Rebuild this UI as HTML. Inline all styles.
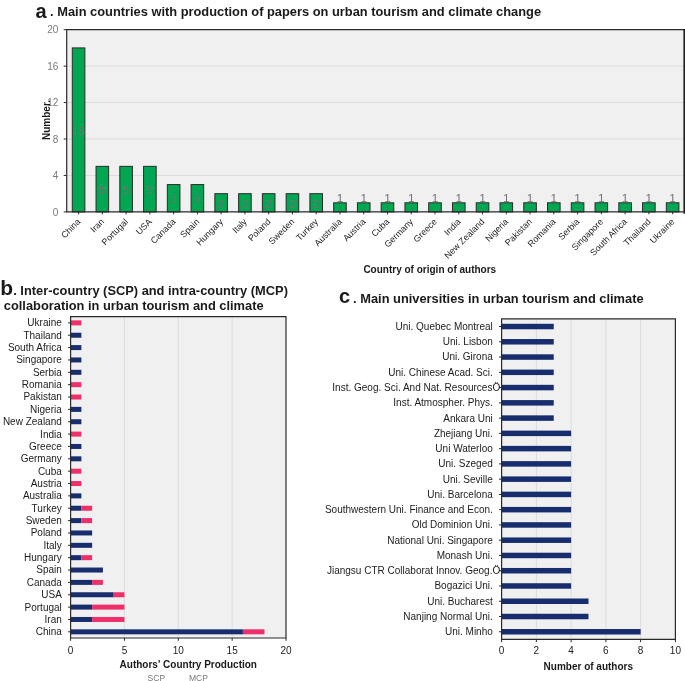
<!DOCTYPE html>
<html lang="en"><head><meta charset="utf-8"><title>Urban tourism and climate change</title>
<style>
html,body{margin:0;padding:0;background:#fff;}
svg{display:block;font-family:"Liberation Sans", Arial, sans-serif;}
.t{font-weight:bold;font-size:12.85px;fill:#1a1a1a;}
.L{font-weight:bold;font-size:20px;fill:#1a1a1a;}
.ax{font-weight:bold;font-size:10px;fill:#1a1a1a;}
.lab{font-size:10px;fill:#1c1c1c;}
.xl{font-size:8.9px;fill:#1c1c1c;}
.ytk{font-size:10px;fill:#7a7a7a;}
.val{font-size:11.8px;fill:#737373;}
.leg{font-size:8.5px;fill:#777;}
</style></head><body>
<svg width="685" height="681" viewBox="0 0 685 681">
<rect width="685" height="681" fill="#fff"/>
<text class="L" x="35.5" y="17.6">a</text>
<text class="t" x="50.1" y="16.4">. Main countries with production of papers on urban tourism and climate change</text>
<rect x="66.7" y="29.7" width="617.8" height="182.20000000000002" fill="#f0f0f0"/>
<line x1="66.7" x2="684.5" y1="175.46" y2="175.46" stroke="#dcdcdc" stroke-width="1"/>
<line x1="66.7" x2="684.5" y1="139.02" y2="139.02" stroke="#dcdcdc" stroke-width="1"/>
<line x1="66.7" x2="684.5" y1="102.58" y2="102.58" stroke="#dcdcdc" stroke-width="1"/>
<line x1="66.7" x2="684.5" y1="66.14" y2="66.14" stroke="#dcdcdc" stroke-width="1"/>
<line x1="63.7" x2="66.7" y1="211.90" y2="211.90" stroke="#2a2a2a" stroke-width="1"/>
<text class="ytk" x="58.400000000000006" y="215.50" text-anchor="end">0</text>
<line x1="63.7" x2="66.7" y1="175.46" y2="175.46" stroke="#2a2a2a" stroke-width="1"/>
<text class="ytk" x="58.400000000000006" y="179.06" text-anchor="end">4</text>
<line x1="63.7" x2="66.7" y1="139.02" y2="139.02" stroke="#2a2a2a" stroke-width="1"/>
<text class="ytk" x="58.400000000000006" y="142.62" text-anchor="end">8</text>
<line x1="63.7" x2="66.7" y1="102.58" y2="102.58" stroke="#2a2a2a" stroke-width="1"/>
<text class="ytk" x="58.400000000000006" y="106.18" text-anchor="end">12</text>
<line x1="63.7" x2="66.7" y1="66.14" y2="66.14" stroke="#2a2a2a" stroke-width="1"/>
<text class="ytk" x="58.400000000000006" y="69.74" text-anchor="end">16</text>
<line x1="63.7" x2="66.7" y1="29.70" y2="29.70" stroke="#2a2a2a" stroke-width="1"/>
<text class="ytk" x="58.400000000000006" y="33.30" text-anchor="end">20</text>
<rect x="72.28" y="47.92" width="12.6" height="163.98" fill="#00a651" stroke="#2b2b2b" stroke-width="1"/>
<text class="val" x="78.58" y="134.81" text-anchor="middle">18</text>
<line x1="78.58" x2="78.58" y1="211.9" y2="214.3" stroke="#2a2a2a" stroke-width="1"/>
<text class="xl" text-anchor="end" transform="translate(81.08,222.30) rotate(-45)">China</text>
<rect x="96.04" y="166.35" width="12.6" height="45.55" fill="#00a651" stroke="#2b2b2b" stroke-width="1"/>
<text class="val" x="102.34" y="194.03" text-anchor="middle">5</text>
<line x1="102.34" x2="102.34" y1="211.9" y2="214.3" stroke="#2a2a2a" stroke-width="1"/>
<text class="xl" text-anchor="end" transform="translate(104.84,222.30) rotate(-45)">Iran</text>
<rect x="119.80" y="166.35" width="12.6" height="45.55" fill="#00a651" stroke="#2b2b2b" stroke-width="1"/>
<text class="val" x="126.10" y="194.03" text-anchor="middle">5</text>
<line x1="126.10" x2="126.10" y1="211.9" y2="214.3" stroke="#2a2a2a" stroke-width="1"/>
<text class="xl" text-anchor="end" transform="translate(128.60,222.30) rotate(-45)">Portugal</text>
<rect x="143.57" y="166.35" width="12.6" height="45.55" fill="#00a651" stroke="#2b2b2b" stroke-width="1"/>
<text class="val" x="149.87" y="194.03" text-anchor="middle">5</text>
<line x1="149.87" x2="149.87" y1="211.9" y2="214.3" stroke="#2a2a2a" stroke-width="1"/>
<text class="xl" text-anchor="end" transform="translate(152.37,222.30) rotate(-45)">USA</text>
<rect x="167.33" y="184.57" width="12.6" height="27.33" fill="#00a651" stroke="#2b2b2b" stroke-width="1"/>
<text class="val" x="173.63" y="203.14" text-anchor="middle">3</text>
<line x1="173.63" x2="173.63" y1="211.9" y2="214.3" stroke="#2a2a2a" stroke-width="1"/>
<text class="xl" text-anchor="end" transform="translate(176.13,222.30) rotate(-45)">Canada</text>
<rect x="191.09" y="184.57" width="12.6" height="27.33" fill="#00a651" stroke="#2b2b2b" stroke-width="1"/>
<text class="val" x="197.39" y="203.14" text-anchor="middle">3</text>
<line x1="197.39" x2="197.39" y1="211.9" y2="214.3" stroke="#2a2a2a" stroke-width="1"/>
<text class="xl" text-anchor="end" transform="translate(199.89,222.30) rotate(-45)">Spain</text>
<rect x="214.85" y="193.68" width="12.6" height="18.22" fill="#00a651" stroke="#2b2b2b" stroke-width="1"/>
<text class="val" x="221.15" y="207.69" text-anchor="middle">2</text>
<line x1="221.15" x2="221.15" y1="211.9" y2="214.3" stroke="#2a2a2a" stroke-width="1"/>
<text class="xl" text-anchor="end" transform="translate(223.65,222.30) rotate(-45)">Hungary</text>
<rect x="238.61" y="193.68" width="12.6" height="18.22" fill="#00a651" stroke="#2b2b2b" stroke-width="1"/>
<text class="val" x="244.91" y="207.69" text-anchor="middle">2</text>
<line x1="244.91" x2="244.91" y1="211.9" y2="214.3" stroke="#2a2a2a" stroke-width="1"/>
<text class="xl" text-anchor="end" transform="translate(247.41,222.30) rotate(-45)">Italy</text>
<rect x="262.37" y="193.68" width="12.6" height="18.22" fill="#00a651" stroke="#2b2b2b" stroke-width="1"/>
<text class="val" x="268.67" y="207.69" text-anchor="middle">2</text>
<line x1="268.67" x2="268.67" y1="211.9" y2="214.3" stroke="#2a2a2a" stroke-width="1"/>
<text class="xl" text-anchor="end" transform="translate(271.17,222.30) rotate(-45)">Poland</text>
<rect x="286.13" y="193.68" width="12.6" height="18.22" fill="#00a651" stroke="#2b2b2b" stroke-width="1"/>
<text class="val" x="292.43" y="207.69" text-anchor="middle">2</text>
<line x1="292.43" x2="292.43" y1="211.9" y2="214.3" stroke="#2a2a2a" stroke-width="1"/>
<text class="xl" text-anchor="end" transform="translate(294.93,222.30) rotate(-45)">Sweden</text>
<rect x="309.90" y="193.68" width="12.6" height="18.22" fill="#00a651" stroke="#2b2b2b" stroke-width="1"/>
<text class="val" x="316.20" y="207.69" text-anchor="middle">2</text>
<line x1="316.20" x2="316.20" y1="211.9" y2="214.3" stroke="#2a2a2a" stroke-width="1"/>
<text class="xl" text-anchor="end" transform="translate(318.70,222.30) rotate(-45)">Turkey</text>
<rect x="333.66" y="202.79" width="12.6" height="9.11" fill="#00a651" stroke="#2b2b2b" stroke-width="1"/>
<text class="val" x="339.96" y="202.39" text-anchor="middle">1</text>
<line x1="339.96" x2="339.96" y1="211.9" y2="214.3" stroke="#2a2a2a" stroke-width="1"/>
<text class="xl" text-anchor="end" transform="translate(342.46,222.30) rotate(-45)">Australia</text>
<rect x="357.42" y="202.79" width="12.6" height="9.11" fill="#00a651" stroke="#2b2b2b" stroke-width="1"/>
<text class="val" x="363.72" y="202.39" text-anchor="middle">1</text>
<line x1="363.72" x2="363.72" y1="211.9" y2="214.3" stroke="#2a2a2a" stroke-width="1"/>
<text class="xl" text-anchor="end" transform="translate(366.22,222.30) rotate(-45)">Austria</text>
<rect x="381.18" y="202.79" width="12.6" height="9.11" fill="#00a651" stroke="#2b2b2b" stroke-width="1"/>
<text class="val" x="387.48" y="202.39" text-anchor="middle">1</text>
<line x1="387.48" x2="387.48" y1="211.9" y2="214.3" stroke="#2a2a2a" stroke-width="1"/>
<text class="xl" text-anchor="end" transform="translate(389.98,222.30) rotate(-45)">Cuba</text>
<rect x="404.94" y="202.79" width="12.6" height="9.11" fill="#00a651" stroke="#2b2b2b" stroke-width="1"/>
<text class="val" x="411.24" y="202.39" text-anchor="middle">1</text>
<line x1="411.24" x2="411.24" y1="211.9" y2="214.3" stroke="#2a2a2a" stroke-width="1"/>
<text class="xl" text-anchor="end" transform="translate(413.74,222.30) rotate(-45)">Germany</text>
<rect x="428.70" y="202.79" width="12.6" height="9.11" fill="#00a651" stroke="#2b2b2b" stroke-width="1"/>
<text class="val" x="435.00" y="202.39" text-anchor="middle">1</text>
<line x1="435.00" x2="435.00" y1="211.9" y2="214.3" stroke="#2a2a2a" stroke-width="1"/>
<text class="xl" text-anchor="end" transform="translate(437.50,222.30) rotate(-45)">Greece</text>
<rect x="452.47" y="202.79" width="12.6" height="9.11" fill="#00a651" stroke="#2b2b2b" stroke-width="1"/>
<text class="val" x="458.77" y="202.39" text-anchor="middle">1</text>
<line x1="458.77" x2="458.77" y1="211.9" y2="214.3" stroke="#2a2a2a" stroke-width="1"/>
<text class="xl" text-anchor="end" transform="translate(461.27,222.30) rotate(-45)">India</text>
<rect x="476.23" y="202.79" width="12.6" height="9.11" fill="#00a651" stroke="#2b2b2b" stroke-width="1"/>
<text class="val" x="482.53" y="202.39" text-anchor="middle">1</text>
<line x1="482.53" x2="482.53" y1="211.9" y2="214.3" stroke="#2a2a2a" stroke-width="1"/>
<text class="xl" text-anchor="end" transform="translate(485.03,222.30) rotate(-45)">New Zealand</text>
<rect x="499.99" y="202.79" width="12.6" height="9.11" fill="#00a651" stroke="#2b2b2b" stroke-width="1"/>
<text class="val" x="506.29" y="202.39" text-anchor="middle">1</text>
<line x1="506.29" x2="506.29" y1="211.9" y2="214.3" stroke="#2a2a2a" stroke-width="1"/>
<text class="xl" text-anchor="end" transform="translate(508.79,222.30) rotate(-45)">Nigeria</text>
<rect x="523.75" y="202.79" width="12.6" height="9.11" fill="#00a651" stroke="#2b2b2b" stroke-width="1"/>
<text class="val" x="530.05" y="202.39" text-anchor="middle">1</text>
<line x1="530.05" x2="530.05" y1="211.9" y2="214.3" stroke="#2a2a2a" stroke-width="1"/>
<text class="xl" text-anchor="end" transform="translate(532.55,222.30) rotate(-45)">Pakistan</text>
<rect x="547.51" y="202.79" width="12.6" height="9.11" fill="#00a651" stroke="#2b2b2b" stroke-width="1"/>
<text class="val" x="553.81" y="202.39" text-anchor="middle">1</text>
<line x1="553.81" x2="553.81" y1="211.9" y2="214.3" stroke="#2a2a2a" stroke-width="1"/>
<text class="xl" text-anchor="end" transform="translate(556.31,222.30) rotate(-45)">Romania</text>
<rect x="571.27" y="202.79" width="12.6" height="9.11" fill="#00a651" stroke="#2b2b2b" stroke-width="1"/>
<text class="val" x="577.57" y="202.39" text-anchor="middle">1</text>
<line x1="577.57" x2="577.57" y1="211.9" y2="214.3" stroke="#2a2a2a" stroke-width="1"/>
<text class="xl" text-anchor="end" transform="translate(580.07,222.30) rotate(-45)">Serbia</text>
<rect x="595.03" y="202.79" width="12.6" height="9.11" fill="#00a651" stroke="#2b2b2b" stroke-width="1"/>
<text class="val" x="601.33" y="202.39" text-anchor="middle">1</text>
<line x1="601.33" x2="601.33" y1="211.9" y2="214.3" stroke="#2a2a2a" stroke-width="1"/>
<text class="xl" text-anchor="end" transform="translate(603.83,222.30) rotate(-45)">Singapore</text>
<rect x="618.80" y="202.79" width="12.6" height="9.11" fill="#00a651" stroke="#2b2b2b" stroke-width="1"/>
<text class="val" x="625.10" y="202.39" text-anchor="middle">1</text>
<line x1="625.10" x2="625.10" y1="211.9" y2="214.3" stroke="#2a2a2a" stroke-width="1"/>
<text class="xl" text-anchor="end" transform="translate(627.60,222.30) rotate(-45)">South Africa</text>
<rect x="642.56" y="202.79" width="12.6" height="9.11" fill="#00a651" stroke="#2b2b2b" stroke-width="1"/>
<text class="val" x="648.86" y="202.39" text-anchor="middle">1</text>
<line x1="648.86" x2="648.86" y1="211.9" y2="214.3" stroke="#2a2a2a" stroke-width="1"/>
<text class="xl" text-anchor="end" transform="translate(651.36,222.30) rotate(-45)">Thailand</text>
<rect x="666.32" y="202.79" width="12.6" height="9.11" fill="#00a651" stroke="#2b2b2b" stroke-width="1"/>
<text class="val" x="672.62" y="202.39" text-anchor="middle">1</text>
<line x1="672.62" x2="672.62" y1="211.9" y2="214.3" stroke="#2a2a2a" stroke-width="1"/>
<text class="xl" text-anchor="end" transform="translate(675.12,222.30) rotate(-45)">Ukraine</text>
<path d="M66.7 211.9V29.7H684.5" fill="none" stroke="#2a2a2a" stroke-width="1.2"/>
<line x1="684.2" x2="684.2" y1="29.099999999999998" y2="213.70000000000002" stroke="#111" stroke-width="1.5"/>
<line x1="66.2" x2="685.0" y1="211.9" y2="211.9" stroke="#2a2a2a" stroke-width="1.4"/>
<text class="ax" text-anchor="middle" transform="translate(49.8,120) rotate(-90)">Number.</text>
<text class="ax" x="363.4" y="272.5">Country of origin of authors</text>
<text class="L" style="font-size:21px" x="0.3" y="295.4">b</text>
<text class="t" x="13.2" y="294.8">. Inter-country (SCP) and intra-country (MCP)</text>
<text class="t" x="3.8" y="310.2">collaboration in urban tourism and climate</text>
<rect x="70.6" y="316.7" width="215.4" height="321.3" fill="#f0f0f0"/>
<line x1="124.45" x2="124.45" y1="316.7" y2="638.0" stroke="#dcdcdc" stroke-width="1"/>
<line x1="178.30" x2="178.30" y1="316.7" y2="638.0" stroke="#dcdcdc" stroke-width="1"/>
<line x1="232.15" x2="232.15" y1="316.7" y2="638.0" stroke="#dcdcdc" stroke-width="1"/>
<rect x="70.60" y="320.38" width="10.77" height="5" fill="#ee2f69"/>
<line x1="68.0" x2="70.6" y1="322.88" y2="322.88" stroke="#2a2a2a" stroke-width="1"/>
<text class="lab" x="61.8" y="326.28" text-anchor="end">Ukraine</text>
<rect x="70.6" y="332.74" width="10.77" height="5" fill="#182d6e"/>
<line x1="68.0" x2="70.6" y1="335.24" y2="335.24" stroke="#2a2a2a" stroke-width="1"/>
<text class="lab" x="61.8" y="338.64" text-anchor="end">Thailand</text>
<rect x="70.6" y="345.09" width="10.77" height="5" fill="#182d6e"/>
<line x1="68.0" x2="70.6" y1="347.59" y2="347.59" stroke="#2a2a2a" stroke-width="1"/>
<text class="lab" x="61.8" y="350.99" text-anchor="end">South Africa</text>
<rect x="70.6" y="357.45" width="10.77" height="5" fill="#182d6e"/>
<line x1="68.0" x2="70.6" y1="359.95" y2="359.95" stroke="#2a2a2a" stroke-width="1"/>
<text class="lab" x="61.8" y="363.35" text-anchor="end">Singapore</text>
<rect x="70.6" y="369.81" width="10.77" height="5" fill="#182d6e"/>
<line x1="68.0" x2="70.6" y1="372.31" y2="372.31" stroke="#2a2a2a" stroke-width="1"/>
<text class="lab" x="61.8" y="375.71" text-anchor="end">Serbia</text>
<rect x="70.60" y="382.17" width="10.77" height="5" fill="#ee2f69"/>
<line x1="68.0" x2="70.6" y1="384.67" y2="384.67" stroke="#2a2a2a" stroke-width="1"/>
<text class="lab" x="61.8" y="388.07" text-anchor="end">Romania</text>
<rect x="70.60" y="394.52" width="10.77" height="5" fill="#ee2f69"/>
<line x1="68.0" x2="70.6" y1="397.02" y2="397.02" stroke="#2a2a2a" stroke-width="1"/>
<text class="lab" x="61.8" y="400.42" text-anchor="end">Pakistan</text>
<rect x="70.6" y="406.88" width="10.77" height="5" fill="#182d6e"/>
<line x1="68.0" x2="70.6" y1="409.38" y2="409.38" stroke="#2a2a2a" stroke-width="1"/>
<text class="lab" x="61.8" y="412.78" text-anchor="end">Nigeria</text>
<rect x="70.6" y="419.24" width="10.77" height="5" fill="#182d6e"/>
<line x1="68.0" x2="70.6" y1="421.74" y2="421.74" stroke="#2a2a2a" stroke-width="1"/>
<text class="lab" x="61.8" y="425.14" text-anchor="end">New Zealand</text>
<rect x="70.60" y="431.60" width="10.77" height="5" fill="#ee2f69"/>
<line x1="68.0" x2="70.6" y1="434.10" y2="434.10" stroke="#2a2a2a" stroke-width="1"/>
<text class="lab" x="61.8" y="437.50" text-anchor="end">India</text>
<rect x="70.6" y="443.96" width="10.77" height="5" fill="#182d6e"/>
<line x1="68.0" x2="70.6" y1="446.46" y2="446.46" stroke="#2a2a2a" stroke-width="1"/>
<text class="lab" x="61.8" y="449.86" text-anchor="end">Greece</text>
<rect x="70.6" y="456.31" width="10.77" height="5" fill="#182d6e"/>
<line x1="68.0" x2="70.6" y1="458.81" y2="458.81" stroke="#2a2a2a" stroke-width="1"/>
<text class="lab" x="61.8" y="462.21" text-anchor="end">Germany</text>
<rect x="70.60" y="468.67" width="10.77" height="5" fill="#ee2f69"/>
<line x1="68.0" x2="70.6" y1="471.17" y2="471.17" stroke="#2a2a2a" stroke-width="1"/>
<text class="lab" x="61.8" y="474.57" text-anchor="end">Cuba</text>
<rect x="70.60" y="481.03" width="10.77" height="5" fill="#ee2f69"/>
<line x1="68.0" x2="70.6" y1="483.53" y2="483.53" stroke="#2a2a2a" stroke-width="1"/>
<text class="lab" x="61.8" y="486.93" text-anchor="end">Austria</text>
<rect x="70.6" y="493.39" width="10.77" height="5" fill="#182d6e"/>
<line x1="68.0" x2="70.6" y1="495.89" y2="495.89" stroke="#2a2a2a" stroke-width="1"/>
<text class="lab" x="61.8" y="499.29" text-anchor="end">Australia</text>
<rect x="70.6" y="505.74" width="10.77" height="5" fill="#182d6e"/>
<rect x="81.37" y="505.74" width="10.77" height="5" fill="#ee2f69"/>
<line x1="68.0" x2="70.6" y1="508.24" y2="508.24" stroke="#2a2a2a" stroke-width="1"/>
<text class="lab" x="61.8" y="511.64" text-anchor="end">Turkey</text>
<rect x="70.6" y="518.10" width="10.77" height="5" fill="#182d6e"/>
<rect x="81.37" y="518.10" width="10.77" height="5" fill="#ee2f69"/>
<line x1="68.0" x2="70.6" y1="520.60" y2="520.60" stroke="#2a2a2a" stroke-width="1"/>
<text class="lab" x="61.8" y="524.00" text-anchor="end">Sweden</text>
<rect x="70.6" y="530.46" width="21.54" height="5" fill="#182d6e"/>
<line x1="68.0" x2="70.6" y1="532.96" y2="532.96" stroke="#2a2a2a" stroke-width="1"/>
<text class="lab" x="61.8" y="536.36" text-anchor="end">Poland</text>
<rect x="70.6" y="542.82" width="21.54" height="5" fill="#182d6e"/>
<line x1="68.0" x2="70.6" y1="545.32" y2="545.32" stroke="#2a2a2a" stroke-width="1"/>
<text class="lab" x="61.8" y="548.72" text-anchor="end">Italy</text>
<rect x="70.6" y="555.17" width="10.77" height="5" fill="#182d6e"/>
<rect x="81.37" y="555.17" width="10.77" height="5" fill="#ee2f69"/>
<line x1="68.0" x2="70.6" y1="557.67" y2="557.67" stroke="#2a2a2a" stroke-width="1"/>
<text class="lab" x="61.8" y="561.07" text-anchor="end">Hungary</text>
<rect x="70.6" y="567.53" width="32.31" height="5" fill="#182d6e"/>
<line x1="68.0" x2="70.6" y1="570.03" y2="570.03" stroke="#2a2a2a" stroke-width="1"/>
<text class="lab" x="61.8" y="573.43" text-anchor="end">Spain</text>
<rect x="70.6" y="579.89" width="21.54" height="5" fill="#182d6e"/>
<rect x="92.14" y="579.89" width="10.77" height="5" fill="#ee2f69"/>
<line x1="68.0" x2="70.6" y1="582.39" y2="582.39" stroke="#2a2a2a" stroke-width="1"/>
<text class="lab" x="61.8" y="585.79" text-anchor="end">Canada</text>
<rect x="70.6" y="592.25" width="43.08" height="5" fill="#182d6e"/>
<rect x="113.68" y="592.25" width="10.77" height="5" fill="#ee2f69"/>
<line x1="68.0" x2="70.6" y1="594.75" y2="594.75" stroke="#2a2a2a" stroke-width="1"/>
<text class="lab" x="61.8" y="598.15" text-anchor="end">USA</text>
<rect x="70.6" y="604.61" width="21.54" height="5" fill="#182d6e"/>
<rect x="92.14" y="604.61" width="32.31" height="5" fill="#ee2f69"/>
<line x1="68.0" x2="70.6" y1="607.11" y2="607.11" stroke="#2a2a2a" stroke-width="1"/>
<text class="lab" x="61.8" y="610.51" text-anchor="end">Portugal</text>
<rect x="70.6" y="616.96" width="21.54" height="5" fill="#182d6e"/>
<rect x="92.14" y="616.96" width="32.31" height="5" fill="#ee2f69"/>
<line x1="68.0" x2="70.6" y1="619.46" y2="619.46" stroke="#2a2a2a" stroke-width="1"/>
<text class="lab" x="61.8" y="622.86" text-anchor="end">Iran</text>
<rect x="70.6" y="629.32" width="172.32" height="5" fill="#182d6e"/>
<rect x="242.92" y="629.32" width="21.54" height="5" fill="#ee2f69"/>
<line x1="68.0" x2="70.6" y1="631.82" y2="631.82" stroke="#2a2a2a" stroke-width="1"/>
<text class="lab" x="61.8" y="635.22" text-anchor="end">China</text>
<path d="M70.6 638.0V316.7H286.0V638.0Z" fill="none" stroke="#2a2a2a" stroke-width="1.2"/>
<line x1="70.60" x2="70.60" y1="638.0" y2="640.8" stroke="#2a2a2a" stroke-width="1"/>
<text class="lab" style="font-size:10px" x="70.60" y="653.5" text-anchor="middle">0</text>
<line x1="124.45" x2="124.45" y1="638.0" y2="640.8" stroke="#2a2a2a" stroke-width="1"/>
<text class="lab" style="font-size:10px" x="124.45" y="653.5" text-anchor="middle">5</text>
<line x1="178.30" x2="178.30" y1="638.0" y2="640.8" stroke="#2a2a2a" stroke-width="1"/>
<text class="lab" style="font-size:10px" x="178.30" y="653.5" text-anchor="middle">10</text>
<line x1="232.15" x2="232.15" y1="638.0" y2="640.8" stroke="#2a2a2a" stroke-width="1"/>
<text class="lab" style="font-size:10px" x="232.15" y="653.5" text-anchor="middle">15</text>
<line x1="286.00" x2="286.00" y1="638.0" y2="640.8" stroke="#2a2a2a" stroke-width="1"/>
<text class="lab" style="font-size:10px" x="286.00" y="653.5" text-anchor="middle">20</text>
<text class="ax" x="119.6" y="667.6">Authors' Country Production</text>
<text class="leg" x="147.6" y="680.8">SCP</text>
<text class="leg" x="189" y="680.8">MCP</text>
<text class="L" x="339" y="303.1">c</text>
<text class="t" x="353.1" y="302.8">. Main universities in urban tourism and climate</text>
<rect x="501.6" y="318.9" width="173.79999999999995" height="320.5" fill="#f0f0f0"/>
<line x1="536.36" x2="536.36" y1="318.9" y2="639.4" stroke="#dcdcdc" stroke-width="1"/>
<line x1="571.12" x2="571.12" y1="318.9" y2="639.4" stroke="#dcdcdc" stroke-width="1"/>
<line x1="605.88" x2="605.88" y1="318.9" y2="639.4" stroke="#dcdcdc" stroke-width="1"/>
<line x1="640.64" x2="640.64" y1="318.9" y2="639.4" stroke="#dcdcdc" stroke-width="1"/>
<rect x="501.6" y="323.78" width="52.14" height="5.5" fill="#182d6e"/>
<line x1="499.0" x2="501.6" y1="326.53" y2="326.53" stroke="#2a2a2a" stroke-width="1"/>
<text class="lab" x="492.8" y="329.93" text-anchor="end">Uni. Quebec Montreal</text>
<rect x="501.6" y="339.04" width="52.14" height="5.5" fill="#182d6e"/>
<line x1="499.0" x2="501.6" y1="341.79" y2="341.79" stroke="#2a2a2a" stroke-width="1"/>
<text class="lab" x="492.8" y="345.19" text-anchor="end">Uni. Lisbon</text>
<rect x="501.6" y="354.30" width="52.14" height="5.5" fill="#182d6e"/>
<line x1="499.0" x2="501.6" y1="357.05" y2="357.05" stroke="#2a2a2a" stroke-width="1"/>
<text class="lab" x="492.8" y="360.45" text-anchor="end">Uni. Girona</text>
<rect x="501.6" y="369.57" width="52.14" height="5.5" fill="#182d6e"/>
<line x1="499.0" x2="501.6" y1="372.32" y2="372.32" stroke="#2a2a2a" stroke-width="1"/>
<text class="lab" x="492.8" y="375.72" text-anchor="end">Uni. Chinese Acad. Sci.</text>
<rect x="501.6" y="384.83" width="52.14" height="5.5" fill="#182d6e"/>
<line x1="499.0" x2="501.6" y1="387.58" y2="387.58" stroke="#2a2a2a" stroke-width="1"/>
<text class="lab" x="500.2" y="390.98" text-anchor="end">Inst. Geog. Sci. And Nat. ResourcesÖ</text>
<rect x="501.6" y="400.09" width="52.14" height="5.5" fill="#182d6e"/>
<line x1="499.0" x2="501.6" y1="402.84" y2="402.84" stroke="#2a2a2a" stroke-width="1"/>
<text class="lab" x="492.8" y="406.24" text-anchor="end">Inst. Atmospher. Phys.</text>
<rect x="501.6" y="415.35" width="52.14" height="5.5" fill="#182d6e"/>
<line x1="499.0" x2="501.6" y1="418.10" y2="418.10" stroke="#2a2a2a" stroke-width="1"/>
<text class="lab" x="492.8" y="421.50" text-anchor="end">Ankara Uni</text>
<rect x="501.6" y="430.61" width="69.52" height="5.5" fill="#182d6e"/>
<line x1="499.0" x2="501.6" y1="433.36" y2="433.36" stroke="#2a2a2a" stroke-width="1"/>
<text class="lab" x="492.8" y="436.76" text-anchor="end">Zhejiang Uni.</text>
<rect x="501.6" y="445.88" width="69.52" height="5.5" fill="#182d6e"/>
<line x1="499.0" x2="501.6" y1="448.63" y2="448.63" stroke="#2a2a2a" stroke-width="1"/>
<text class="lab" x="492.8" y="452.03" text-anchor="end">Uni Waterloo</text>
<rect x="501.6" y="461.14" width="69.52" height="5.5" fill="#182d6e"/>
<line x1="499.0" x2="501.6" y1="463.89" y2="463.89" stroke="#2a2a2a" stroke-width="1"/>
<text class="lab" x="492.8" y="467.29" text-anchor="end">Uni. Szeged</text>
<rect x="501.6" y="476.40" width="69.52" height="5.5" fill="#182d6e"/>
<line x1="499.0" x2="501.6" y1="479.15" y2="479.15" stroke="#2a2a2a" stroke-width="1"/>
<text class="lab" x="492.8" y="482.55" text-anchor="end">Uni. Seville</text>
<rect x="501.6" y="491.66" width="69.52" height="5.5" fill="#182d6e"/>
<line x1="499.0" x2="501.6" y1="494.41" y2="494.41" stroke="#2a2a2a" stroke-width="1"/>
<text class="lab" x="492.8" y="497.81" text-anchor="end">Uni. Barcelona</text>
<rect x="501.6" y="506.92" width="69.52" height="5.5" fill="#182d6e"/>
<line x1="499.0" x2="501.6" y1="509.67" y2="509.67" stroke="#2a2a2a" stroke-width="1"/>
<text class="lab" x="492.8" y="513.07" text-anchor="end">Southwestern Uni. Finance and Econ.</text>
<rect x="501.6" y="522.19" width="69.52" height="5.5" fill="#182d6e"/>
<line x1="499.0" x2="501.6" y1="524.94" y2="524.94" stroke="#2a2a2a" stroke-width="1"/>
<text class="lab" x="492.8" y="528.34" text-anchor="end">Old Dominion Uni.</text>
<rect x="501.6" y="537.45" width="69.52" height="5.5" fill="#182d6e"/>
<line x1="499.0" x2="501.6" y1="540.20" y2="540.20" stroke="#2a2a2a" stroke-width="1"/>
<text class="lab" x="492.8" y="543.60" text-anchor="end">National Uni. Singapore</text>
<rect x="501.6" y="552.71" width="69.52" height="5.5" fill="#182d6e"/>
<line x1="499.0" x2="501.6" y1="555.46" y2="555.46" stroke="#2a2a2a" stroke-width="1"/>
<text class="lab" x="492.8" y="558.86" text-anchor="end">Monash Uni.</text>
<rect x="501.6" y="567.97" width="69.52" height="5.5" fill="#182d6e"/>
<line x1="499.0" x2="501.6" y1="570.72" y2="570.72" stroke="#2a2a2a" stroke-width="1"/>
<text class="lab" x="500.2" y="574.12" text-anchor="end">Jiangsu CTR Collaborat Innov. Geog.Ö</text>
<rect x="501.6" y="583.23" width="69.52" height="5.5" fill="#182d6e"/>
<line x1="499.0" x2="501.6" y1="585.98" y2="585.98" stroke="#2a2a2a" stroke-width="1"/>
<text class="lab" x="492.8" y="589.38" text-anchor="end">Bogazici Uni.</text>
<rect x="501.6" y="598.50" width="86.90" height="5.5" fill="#182d6e"/>
<line x1="499.0" x2="501.6" y1="601.25" y2="601.25" stroke="#2a2a2a" stroke-width="1"/>
<text class="lab" x="492.8" y="604.65" text-anchor="end">Uni. Bucharest</text>
<rect x="501.6" y="613.76" width="86.90" height="5.5" fill="#182d6e"/>
<line x1="499.0" x2="501.6" y1="616.51" y2="616.51" stroke="#2a2a2a" stroke-width="1"/>
<text class="lab" x="492.8" y="619.91" text-anchor="end">Nanjing Normal Uni.</text>
<rect x="501.6" y="629.02" width="139.04" height="5.5" fill="#182d6e"/>
<line x1="499.0" x2="501.6" y1="631.77" y2="631.77" stroke="#2a2a2a" stroke-width="1"/>
<text class="lab" x="492.8" y="635.17" text-anchor="end">Uni. Minho</text>
<path d="M501.6 639.4V318.9H675.4V639.4Z" fill="none" stroke="#2a2a2a" stroke-width="1.2"/>
<line x1="501.60" x2="501.60" y1="639.4" y2="642.1999999999999" stroke="#2a2a2a" stroke-width="1"/>
<text class="lab" style="font-size:10px" x="501.60" y="654.2" text-anchor="middle">0</text>
<line x1="536.36" x2="536.36" y1="639.4" y2="642.1999999999999" stroke="#2a2a2a" stroke-width="1"/>
<text class="lab" style="font-size:10px" x="536.36" y="654.2" text-anchor="middle">2</text>
<line x1="571.12" x2="571.12" y1="639.4" y2="642.1999999999999" stroke="#2a2a2a" stroke-width="1"/>
<text class="lab" style="font-size:10px" x="571.12" y="654.2" text-anchor="middle">4</text>
<line x1="605.88" x2="605.88" y1="639.4" y2="642.1999999999999" stroke="#2a2a2a" stroke-width="1"/>
<text class="lab" style="font-size:10px" x="605.88" y="654.2" text-anchor="middle">6</text>
<line x1="640.64" x2="640.64" y1="639.4" y2="642.1999999999999" stroke="#2a2a2a" stroke-width="1"/>
<text class="lab" style="font-size:10px" x="640.64" y="654.2" text-anchor="middle">8</text>
<line x1="675.40" x2="675.40" y1="639.4" y2="642.1999999999999" stroke="#2a2a2a" stroke-width="1"/>
<text class="lab" style="font-size:10px" x="675.40" y="654.2" text-anchor="middle">10</text>
<text class="ax" x="543.6" y="670.0">Number of authors</text>
</svg></body></html>
